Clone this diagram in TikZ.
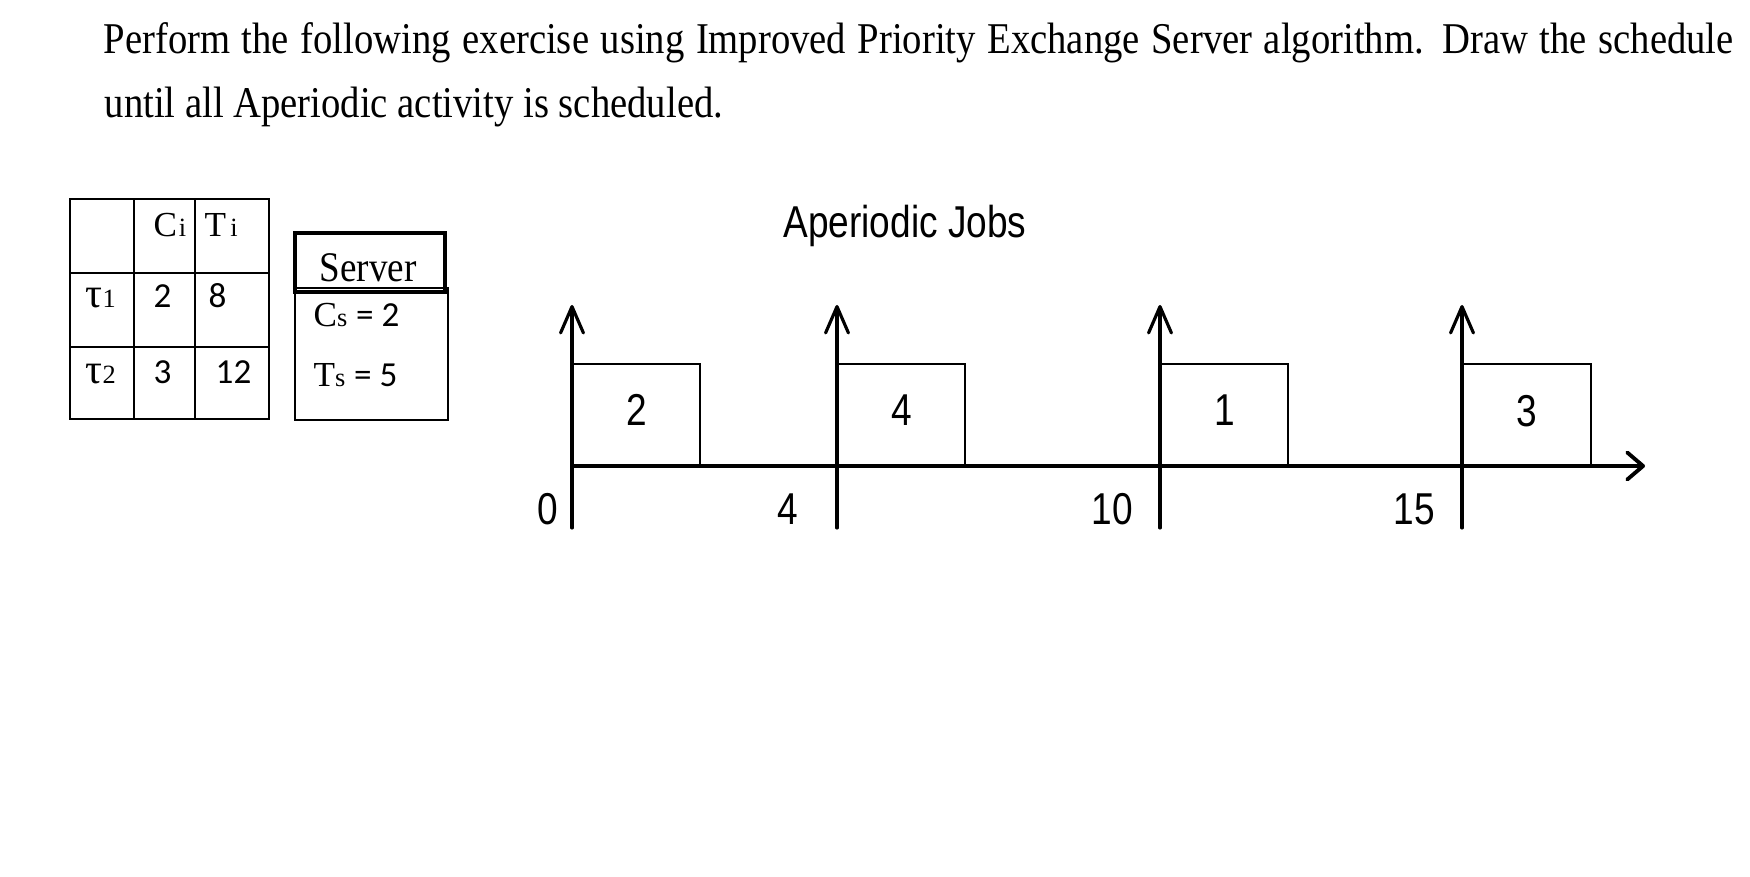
\documentclass[tikz,border=0pt]{standalone}
\usepackage{fontspec}
\setmainfont{Liberation Serif}
\newfontfamily\cambria{Liberation Serif}[FakeStretch=0.88]
\newfontfamily\numfont{Carlito}
\newfontfamily\arialfont{Liberation Sans}[FakeStretch=0.83]
\usetikzlibrary{arrows.meta}

\newcommand{\idx}[1]{{\fontsize{7.5}{8}\selectfont #1}}

\begin{document}
\begin{tikzpicture}[x=0.1mm,y=-0.1mm,
    every node/.style={inner sep=0pt},
    txt/.style={anchor=base west,font=\cambria\fontsize{12.5}{15}\selectfont},
    cell/.style={anchor=base west,font=\fontsize{10}{12}\selectfont},
    job/.style={draw,line width=0.7pt},
    release/.style={line width=0.9pt,line cap=round,-{Straight Barb[length=7.5pt,width=6.5pt,round]}},
    timeaxis/.style={line width=1.1pt,-{Straight Barb[length=4.5pt,width=7.7pt,round]}},
    tick/.style={font=\arialfont\fontsize{12.7}{14}\selectfont}]
    \useasboundingbox (0,0) rectangle (1750,877);

    % Exercise text
    \node[txt] (line1) at (103,54) {\makebox[163mm][s]{Perform the following exercise using Improved Priority Exchange Server algorithm. Draw the schedule}};
    \node[txt] (line2) at (104,118) {until all Aperiodic activity is scheduled.};

    % Periodic tasks
    \draw[line width=0.4pt] (70,199) rectangle (269,419);
    \draw[line width=0.4pt] (134,199) -- (134,419);
    \draw[line width=0.4pt] (195,199) -- (195,419);
    \draw[line width=0.4pt] (70,273) -- (269,273);
    \draw[line width=0.4pt] (70,347) -- (269,347);
    \node[cell] (hc) at (153,237) {C\kern0.5pt\idx{i}};
    \node[cell] (ht) at (204,237) {T\kern1.2pt\idx{i}};
    \node[cell] (t1) at (85,308) {{\fontsize{12}{12}\selectfont τ}\idx{1}};
    \node[cell] (c1) at (153,308) {\numfont 2};
    \node[cell] (p1) at (208,308) {\numfont 8};
    \node[cell] (t2) at (85,383) {{\fontsize{12}{12}\selectfont τ}\idx{2}};
    \node[cell] (c2) at (153,383) {\numfont 3};
    \node[cell] (p2) at (215,383) {\numfont 12};

    % Server
    \draw[line width=0.4pt] (295,288) -- (448,288) -- (448,420) -- (295,420) -- cycle;
    \draw[line width=1pt] (295,233) rectangle (445,292);
    \node[txt] (srv) at (319,282) {\fontsize{12}{14}\selectfont Server};
    \node[cell] (cs) at (313,326) {C\idx{s} {\numfont = 2}};
    \node[cell] (ts) at (313,387) {T\idx{s} {\numfont = 5}};

    % Aperiodic jobs
    \node[tick] (title) at (905,226) {Aperiodic Jobs};
    \coordinate (origin) at (572,466);
    \coordinate (end) at (1645,466);
    \draw[timeaxis] (origin) -- (end);
    \draw[job] (572,466) rectangle (700,364);
    \draw[job] (837,466) rectangle (965,364);
    \draw[job] (1160,466) rectangle (1288,364);
    \draw[job] (1462,466) rectangle (1591,364);
    \node[tick] (j1) at (637,410) {2};
    \node[tick] (j2) at (902,410) {4};
    \node[tick] (j3) at (1225,410) {1};
    \node[tick] (j4) at (1527,411) {3};
    \draw[release] (572,528) -- (572,305);
    \draw[release] (837,528) -- (837,305);
    \draw[release] (1160,528) -- (1160,305);
    \draw[release] (1462,528) -- (1462,305);
    \node[tick] (r1) at (548,509) {0};
    \node[tick] (r2) at (788,509) {4};
    \node[tick] (r3) at (1112,509) {10};
    \node[tick] (r4) at (1414,509) {15};
\end{tikzpicture}
\end{document}
